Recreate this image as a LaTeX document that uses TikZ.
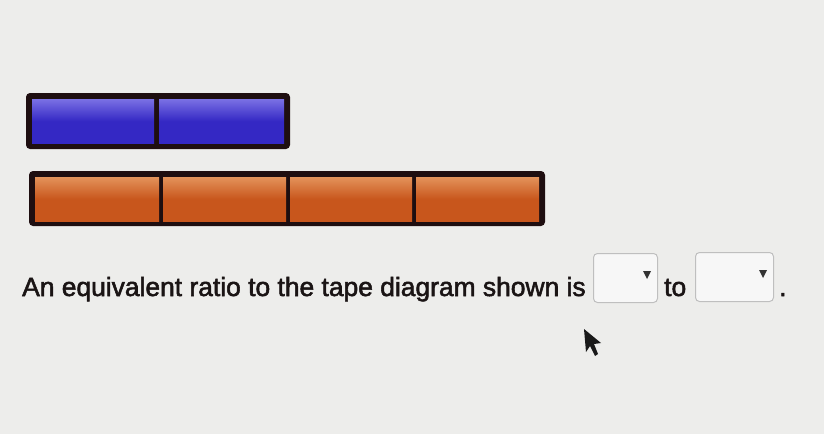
\documentclass[tikz,border=0pt]{standalone}
\usepackage{fontspec}
\setmainfont{Liberation Sans}
\definecolor{bgc}{HTML}{EDEDEB}
\definecolor{bluetop}{HTML}{7A70E4}
\definecolor{bluebot}{HTML}{3428C4}
\definecolor{orgtop}{HTML}{E3925A}
\definecolor{orgbot}{HTML}{C8561C}
\definecolor{edge}{HTML}{1E0E10}
\definecolor{txt}{HTML}{1A1414}
\begin{document}
\begin{tikzpicture}[x=1pt,y=-1pt,
  tapebox/.style={fill=edge, rounded corners=4pt},
  bseg/.style={anchor=north west, inner sep=0pt, minimum height=44pt, top color=bluetop, bottom color=bluebot, middle color=bluebot},
  oseg/.style={anchor=north west, inner sep=0pt, minimum height=44pt, top color=orgtop, bottom color=orgbot, middle color=orgbot},
  qtext/.style={anchor=base west, inner sep=0pt, text=txt, font=\fontsize{26.4}{30}\selectfont\addfontfeature{FakeBold=2}},
  dropbox/.style={anchor=north west, draw=black!25, line width=1pt, fill=white!97!black, rounded corners=4pt, inner sep=0pt, minimum width=64pt, minimum height=49pt},
  tri/.style={fill=black!80}
]
\fill[bgc] (0,0) rectangle (824,434);
\useasboundingbox (0,0) rectangle (824,434);

% blue tape
\fill[tapebox] (26,93) rectangle (290,149);
\node[bseg, minimum width=122pt] (b1) at (32,99) {};
\node[bseg, minimum width=125pt] (b2) at (159,99) {};

% orange tape
\fill[tapebox] (29,171) rectangle (545,226);
\node[oseg, minimum width=124pt] (o1) at (35,177) {};
\node[oseg, minimum width=123pt] (o2) at (163,177) {};
\node[oseg, minimum width=122pt] (o3) at (290,177) {};
\node[oseg, minimum width=123pt] (o4) at (416,177) {};

% sentence
\node[qtext] (q) at (22,296) {An equivalent ratio to the tape diagram shown is};
\node[dropbox] (d1) at (593,253) {};
\node[qtext] (to) at (664,296) {to};
\node[dropbox, minimum width=78pt] (d2) at (695,252) {};
\node[qtext] (dot) at (779,296) {.};
\fill[tri] ([xshift=-15pt,yshift=7pt]d1.east) -- ++(8,0) -- ++(-4,8) -- cycle;
\fill[tri] ([xshift=-15pt,yshift=7pt]d2.east) -- ++(8,0) -- ++(-4,8) -- cycle;

% mouse pointer
\fill[black!90] (584,329) -- (586,352) -- (590,346) -- (595,356) -- (598,354) -- (594,344) -- (601,343) -- cycle;
\end{tikzpicture}
\end{document}
